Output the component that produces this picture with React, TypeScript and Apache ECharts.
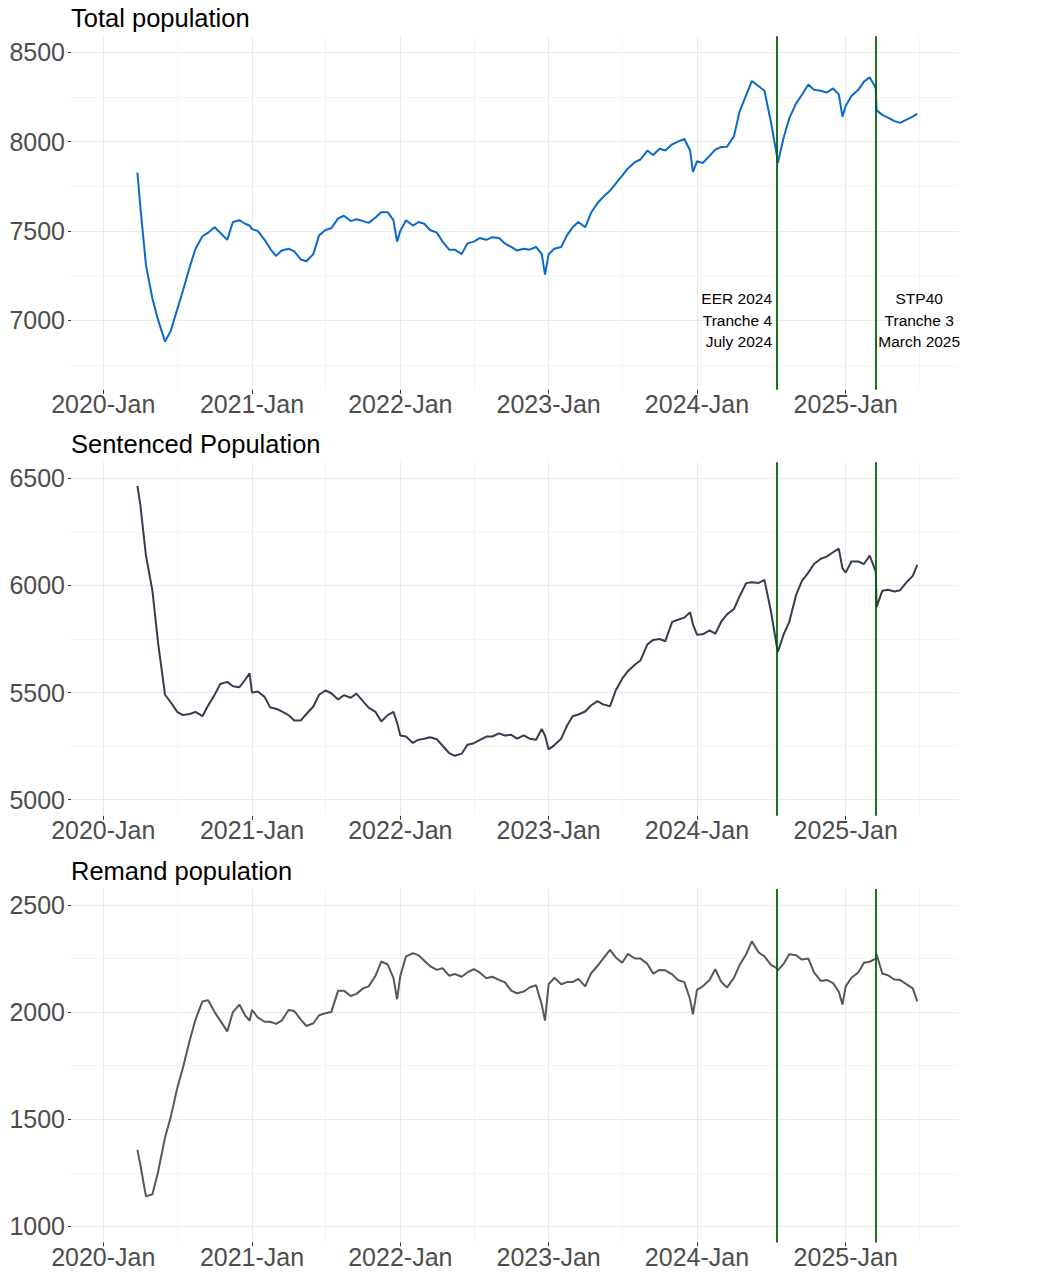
import React, { useEffect, useRef } from "react";
import * as echarts from "echarts";

// readings (roughly twice a month, plus a few event days)
const DATES = [
  "2020-03-25", "2020-04-01", "2020-04-15", "2020-05-01", "2020-05-15", "2020-06-01", "2020-06-15",
  "2020-07-01", "2020-07-15", "2020-08-01", "2020-08-15", "2020-09-01", "2020-09-15", "2020-10-01",
  "2020-10-15", "2020-11-01", "2020-11-15", "2020-12-01", "2020-12-15", "2020-12-26",
  "2021-01-01", "2021-01-15", "2021-02-01", "2021-02-15", "2021-03-01", "2021-03-15", "2021-04-01",
  "2021-04-15", "2021-05-01", "2021-05-15", "2021-06-01", "2021-06-15", "2021-07-01", "2021-07-15",
  "2021-08-01", "2021-08-15", "2021-09-01", "2021-09-15", "2021-10-01", "2021-10-15", "2021-11-01",
  "2021-11-15", "2021-12-01", "2021-12-15", "2021-12-24",
  "2022-01-01", "2022-01-15", "2022-02-01", "2022-02-15", "2022-03-01", "2022-03-15", "2022-04-01",
  "2022-04-15", "2022-05-01", "2022-05-15", "2022-06-01", "2022-06-15", "2022-07-01", "2022-07-15",
  "2022-08-01", "2022-08-15", "2022-09-01", "2022-09-15", "2022-10-01", "2022-10-15", "2022-11-01",
  "2022-11-15", "2022-12-01", "2022-12-15", "2022-12-23",
  "2023-01-01", "2023-01-15", "2023-02-01", "2023-02-15", "2023-03-01", "2023-03-15", "2023-04-01",
  "2023-04-15", "2023-05-01", "2023-05-15", "2023-06-01", "2023-06-15", "2023-07-01", "2023-07-15",
  "2023-08-01", "2023-08-15", "2023-09-01", "2023-09-15", "2023-10-01", "2023-10-15", "2023-11-01",
  "2023-11-15", "2023-12-01", "2023-12-15", "2023-12-22",
  "2024-01-01", "2024-01-15", "2024-02-01", "2024-02-15", "2024-03-01", "2024-03-15", "2024-04-01",
  "2024-04-15", "2024-05-01", "2024-05-15", "2024-06-01", "2024-06-15", "2024-07-01", "2024-07-15",
  "2024-07-18", "2024-08-01", "2024-08-15", "2024-09-01", "2024-09-15", "2024-10-01", "2024-10-15",
  "2024-11-01", "2024-11-15", "2024-12-01", "2024-12-15", "2024-12-24",
  "2025-01-01", "2025-01-15", "2025-02-01", "2025-02-15", "2025-03-01", "2025-03-16", "2025-03-18",
  "2025-04-01", "2025-04-15", "2025-05-01", "2025-05-15", "2025-06-01", "2025-06-15", "2025-06-26",
];

const TOTAL = [
  7827, 7640, 7310, 7120, 7000, 6880, 6940,
  7060, 7165, 7300, 7400, 7470, 7490, 7520,
  7490, 7450, 7550, 7560, 7540, 7530,
  7510, 7500, 7450, 7400, 7360, 7390, 7400,
  7385, 7340, 7330, 7370, 7475, 7505, 7515,
  7570, 7585, 7555, 7565, 7555, 7545, 7575,
  7605, 7605, 7560, 7440,
  7500, 7560, 7530, 7550, 7540, 7505, 7490,
  7440, 7395, 7395, 7370, 7430, 7440, 7460,
  7450, 7465, 7460, 7430, 7410, 7390, 7400,
  7395, 7410, 7370, 7255,
  7370, 7400, 7410, 7475, 7520, 7550, 7520,
  7600, 7655, 7690, 7725, 7765, 7810, 7850,
  7885, 7900, 7950, 7925, 7960, 7950, 7985,
  8000, 8015, 7950, 7830,
  7890, 7880, 7920, 7955, 7970, 7972, 8030,
  8170, 8260, 8340, 8310, 8285, 8110, 7930,
  7880, 8020, 8130, 8214, 8261, 8320, 8290,
  8285, 8275, 8298, 8265, 8140,
  8200, 8255, 8290, 8336, 8360, 8300, 8175,
  8150, 8135, 8115, 8105, 8125, 8140, 8155,
];

const SENTENCED = [
  6465, 6380, 6140, 5975, 5730, 5490, 5455,
  5410, 5395, 5400, 5410, 5390, 5440, 5490,
  5540, 5550, 5530, 5525, 5560, 5590,
  5500, 5505, 5480, 5430, 5425, 5412, 5395,
  5370, 5370, 5400, 5435, 5490, 5510, 5497,
  5468, 5488, 5476, 5495, 5460, 5430, 5410,
  5365, 5395, 5410, 5360,
  5300, 5295, 5265, 5280, 5285, 5292, 5282,
  5252, 5218, 5205, 5215, 5257, 5264, 5278,
  5295, 5295, 5310, 5300, 5303, 5285, 5300,
  5285, 5280, 5330, 5300,
  5235, 5255, 5285, 5345, 5390, 5398, 5412,
  5440, 5460, 5445, 5436, 5510, 5565, 5600,
  5630, 5650, 5725, 5746, 5750, 5740, 5830,
  5840, 5850, 5875, 5820,
  5770, 5772, 5790, 5775, 5832, 5865, 5890,
  5950, 6011, 6015, 6012, 6026, 5880, 5720,
  5690, 5770, 5830, 5956, 6020, 6060, 6100,
  6125, 6135, 6155, 6172, 6080,
  6060, 6112, 6112, 6100, 6140, 6065, 5900,
  5975, 5980, 5972, 5978, 6018, 6045, 6096,
];

const REMAND = [
  1357, 1290, 1140, 1150, 1255, 1415, 1510,
  1645, 1740, 1870, 1965, 2050, 2055, 2000,
  1960, 1910, 2000, 2035, 1985, 1960,
  2010, 1975, 1955, 1955, 1945, 1960, 2010,
  2005, 1965, 1935, 1948, 1985, 1995, 2000,
  2100, 2100, 2075, 2085, 2110, 2120, 2170,
  2236, 2222, 2160, 2060,
  2170, 2260, 2275, 2265, 2240, 2215, 2197,
  2205, 2170, 2178, 2165, 2185, 2200, 2185,
  2158, 2165, 2150, 2140, 2100, 2088, 2096,
  2115, 2125, 2035, 1960,
  2130, 2160, 2130, 2140, 2140, 2155, 2120,
  2180, 2215, 2250, 2290, 2255, 2230, 2272,
  2250, 2250, 2225, 2180, 2197, 2195, 2176,
  2150, 2140, 2060, 1990,
  2104, 2120, 2150, 2200, 2140, 2115, 2160,
  2220, 2270, 2330, 2278, 2260, 2220, 2205,
  2195, 2225, 2270, 2265, 2245, 2250, 2185,
  2145, 2150, 2135, 2095, 2035,
  2120, 2160, 2185, 2230, 2235, 2250, 2270,
  2180, 2172, 2152, 2150, 2128, 2111, 2050,
];

const YEAR_TICKS = ["2020-01-01", "2021-01-01", "2022-01-01", "2023-01-01", "2024-01-01", "2025-01-01"];
const MID_YEAR_TICKS = ["2020-07-01", "2021-07-01", "2022-07-01", "2023-07-01", "2024-07-01", "2025-07-01"];

const EVENT_DATES = ["2024-07-16", "2025-03-17"];
const EVENT_LABELS = ["EER 2024\nTranche 4\nJuly 2024", "STP40\nTranche 3\nMarch 2025"];

const TOTAL_TICKS = [7000, 7500, 8000, 8500];
const TOTAL_MINOR = [6750, 7250, 7750, 8250];
const SENTENCED_TICKS = [5000, 5500, 6000, 6500];
const SENTENCED_MINOR = [5250, 5750, 6250];
const REMAND_TICKS = [1000, 1500, 2000, 2500];
const REMAND_MINOR = [1250, 1750, 2250];

const FONT = "'Liberation Sans', Arial, Helvetica, sans-serif";

const ts = (s: string) => {
  const [y, m, d] = s.split("-").map(Number);
  return new Date(y, m - 1, d).getTime();
};

const X_MIN = new Date(2019, 9, 13, 14).getTime();
const X_MAX = new Date(2025, 9, 6, 19).getTime();

const PANELS = [
  { title: "Total population", values: TOTAL, color: "#0b69c7", min: 6610, max: 8590, ticks: TOTAL_TICKS, minor: TOTAL_MINOR, top: 36.3 },
  { title: "Sentenced Population", values: SENTENCED, color: "#323e4e", min: 4925, max: 6575, ticks: SENTENCED_TICKS, minor: SENTENCED_MINOR, top: 462.3 },
  { title: "Remand population", values: REMAND, color: "#575757", min: 925, max: 2575, ticks: REMAND_TICKS, minor: REMAND_MINOR, top: 888.9 },
];

const GRID_LEFT = 71;
const GRID_WIDTH = 888;
const GRID_HEIGHT = 353.5;

const PopulationChart: React.FC = () => {
  const chartRef = useRef<HTMLDivElement>(null);

  useEffect(() => {
    if (!chartRef.current) return;
    const chart = echarts.init(chartRef.current, undefined, { renderer: "svg" });

    const xAxis: any[] = [];
    const yAxis: any[] = [];
    PANELS.forEach((p, i) => {
      // major axis: labels, ticks and Jan grid lines (dates kept as timestamps)
      xAxis.push({
        type: "value",
        gridIndex: i,
        min: X_MIN,
        max: X_MAX,
        axisLine: { show: false },
        axisTick: {
          show: true,
          length: 4,
          lineStyle: { color: "#333333", width: 1 },
          customValues: YEAR_TICKS.map(ts),
        },
        axisLabel: {
          show: true,
          customValues: YEAR_TICKS.map(ts),
          formatter: (v: number) => `${new Date(v).getFullYear()}-Jan`,
          fontSize: 25,
          color: "#4d4d4d",
          margin: 2,
          fontFamily: FONT,
        },
        splitLine: { show: true, lineStyle: { color: "#ebebeb", width: 1.1 } },
      });
      // minor axis: only the Jul grid lines
      xAxis.push({
        type: "value",
        gridIndex: i,
        min: X_MIN,
        max: X_MAX,
        position: "bottom",
        axisLine: { show: false },
        axisTick: { show: false, customValues: MID_YEAR_TICKS.map(ts) },
        axisLabel: { show: false },
        splitLine: { show: true, lineStyle: { color: "#f0f0f0", width: 0.7 } },
      });

      yAxis.push({
        type: "value",
        gridIndex: i,
        min: p.min,
        max: p.max,
        position: "left",
        axisLine: { show: false },
        axisTick: {
          show: true,
          length: 3,
          lineStyle: { color: "#333333", width: 1 },
          customValues: p.ticks,
        },
        axisLabel: {
          show: true,
          customValues: p.ticks,
          formatter: (v: number) => String(v),
          fontSize: 25,
          color: "#4d4d4d",
          margin: 6,
          fontFamily: FONT,
        },
        splitLine: { show: true, lineStyle: { color: "#ebebeb", width: 1.1 } },
      });
      yAxis.push({
        type: "value",
        gridIndex: i,
        min: p.min,
        max: p.max,
        position: "left",
        axisLine: { show: false },
        axisTick: { show: false, customValues: p.minor },
        axisLabel: { show: false },
        splitLine: { show: true, lineStyle: { color: "#f0f0f0", width: 0.7 } },
      });
    });

    const option = {
      animation: false,
      backgroundColor: "#ffffff",
      textStyle: { fontFamily: FONT },
      grid: PANELS.map((p) => ({
        left: GRID_LEFT,
        top: p.top,
        width: GRID_WIDTH,
        height: GRID_HEIGHT,
        containLabel: false,
      })),
      xAxis,
      yAxis,
      graphic: PANELS.map((p) => ({
        type: "text",
        x: GRID_LEFT,
        y: p.top - 18,
        silent: true,
        style: {
          text: p.title,
          fill: "#000000",
          fontSize: 25.5,
          fontFamily: FONT,
          align: "left",
          verticalAlign: "middle",
        },
      })),
      series: PANELS.map((p, i) => ({
        name: p.title,
        type: "line",
        xAxisIndex: i * 2,
        yAxisIndex: i * 2,
        data: DATES.map((d, k) => [ts(d), p.values[k]]),
        showSymbol: false,
        symbol: "none",
        silent: true,
        lineStyle: { color: p.color, width: 2 },
        itemStyle: { color: p.color },
        markLine: {
          silent: true,
          symbol: ["none", "none"],
          label: { show: false },
          lineStyle: { color: "#006400", width: 1.8, type: "solid" },
          data: EVENT_DATES.map((d) => ({ xAxis: ts(d) })),
        },
        markPoint:
          i === 0
            ? {
                silent: true,
                symbol: "circle",
                symbolSize: 1,
                itemStyle: { color: "transparent" },
                label: {
                  show: true,
                  position: "inside",
                  fontSize: 15.5,
                  lineHeight: 21.7,
                  color: "#000000",
                  fontFamily: FONT,
                },
                data: [
                  {
                    coord: [ts(EVENT_DATES[0]), 7000],
                    label: { formatter: EVENT_LABELS[0], align: "right", offset: [-5, 0] },
                  },
                  {
                    coord: [ts(EVENT_DATES[1]), 7000],
                    label: { formatter: EVENT_LABELS[1], align: "center", offset: [43, 0] },
                  },
                ],
              }
            : undefined,
      })),
    };

    chart.setOption(option);

    return () => {
      chart.dispose();
    };
  }, []);

  return (
    <div
      style={{
        position: "absolute",
        left: 0,
        top: 0,
        width: "1050px",
        height: "1280px",
        backgroundColor: "#ffffff",
      }}
    >
      <div ref={chartRef} style={{ width: "100%", height: "100%" }} />
    </div>
  );
};

export default function App() {
  return <PopulationChart />;
}
